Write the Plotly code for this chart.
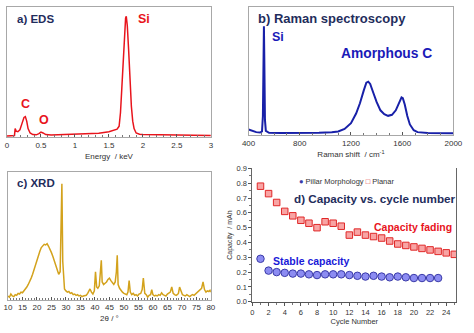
import plotly.graph_objects as go

# ---------------- data ----------------
eds_energy = [0.00, 0.08, 0.11, 0.12, 0.135, 0.16, 0.19, 0.22, 0.25, 0.27, 0.29, 0.31, 0.34, 0.38, 0.43,
              0.47, 0.50, 0.53, 0.57, 0.65, 0.80, 1.00, 1.20, 1.35, 1.50, 1.58, 1.62, 1.65, 1.67, 1.69,
              1.71, 1.73, 1.745, 1.755, 1.77, 1.79, 1.81, 1.83, 1.85, 1.87, 1.90, 1.95, 2.00, 2.20,
              2.50, 2.80, 3.00]
eds_counts = [0.010, 0.012, 0.015, 0.070, 0.050, 0.045, 0.060, 0.110, 0.160, 0.167, 0.130, 0.070, 0.035,
              0.022, 0.020, 0.030, 0.042, 0.035, 0.022, 0.018, 0.020, 0.022, 0.025, 0.032, 0.045, 0.055,
              0.065, 0.090, 0.200, 0.400, 0.650, 0.870, 0.960, 0.975, 0.900, 0.700, 0.450, 0.250, 0.130,
              0.070, 0.035, 0.025, 0.022, 0.020, 0.018, 0.016, 0.015]

raman_shift = [400, 430, 460, 490, 505, 512, 517, 520, 523, 528, 535, 560, 650, 800, 950, 1050, 1100,
               1150, 1200, 1240, 1270, 1300, 1320, 1335, 1350, 1375, 1400, 1430, 1460, 1490, 1520,
               1550, 1575, 1595, 1605, 1620, 1640, 1660, 1690, 1720, 1800, 1900, 2000]
raman_int = [0.045, 0.035, 0.025, 0.022, 0.030, 0.150, 0.600, 0.850, 0.600, 0.120, 0.035, 0.020, 0.018,
             0.017, 0.020, 0.025, 0.030, 0.050, 0.095, 0.170, 0.250, 0.350, 0.410, 0.418, 0.400, 0.330,
             0.260, 0.195, 0.165, 0.152, 0.160, 0.195, 0.250, 0.295, 0.290, 0.240, 0.150, 0.085, 0.040,
             0.025, 0.018, 0.017, 0.016]

xrd_2theta = [10, 10.5, 11, 11.5, 12, 12.5, 13, 13.5, 14, 14.5, 15, 15.5, 16, 16.5, 17, 17.5, 18, 18.5,
              19, 19.5, 20, 20.5, 21, 21.5, 22, 22.5, 23, 23.5, 24, 24.5, 25, 25.5, 26, 26.5, 27, 27.5,
              28, 28.3, 28.6, 28.9, 29.2, 29.5, 30, 30.5, 31, 31.5, 32, 32.5, 33, 33.5, 34, 34.5, 35,
              35.5, 36, 36.5, 37, 37.5, 38.3, 38.8, 39.3, 39.8, 40.2, 40.6, 41.0, 41.5, 41.9, 42.2,
              42.5, 43.0, 43.5, 44.0, 44.5, 45.0, 45.5, 46.0, 46.5, 47.0, 47.4, 47.7, 48.0, 48.5, 49,
              49.5, 50, 50.5, 51.0, 51.4, 51.8, 52.2, 52.7, 53.2, 53.7, 54.2, 54.7, 55.2, 55.8, 56.3,
              56.7, 57.2, 57.7, 58.2, 58.7, 59.2, 59.6, 60.0, 60.5, 61, 61.5, 62, 62.5, 63, 63.5, 64,
              64.5, 65.0, 65.5, 66.0, 66.5, 67, 67.5, 68.0, 68.4, 68.8, 69.2, 69.7, 70.2, 70.7, 71.2,
              71.7, 72.2, 72.7, 73.2, 73.7, 74.2, 74.7, 75.2, 75.7, 76.2, 76.8, 77.3, 77.8, 78.3, 78.8,
              79.3, 79.7, 80]
xrd_int = [0.030, 0.020, 0.045, 0.030, 0.025, 0.040, 0.035, 0.050, 0.045, 0.060, 0.055, 0.070, 0.080,
           0.100, 0.120, 0.140, 0.170, 0.200, 0.240, 0.280, 0.310, 0.350, 0.380, 0.410, 0.420, 0.435,
           0.430, 0.440, 0.420, 0.400, 0.370, 0.340, 0.300, 0.260, 0.220, 0.200, 0.220, 0.500, 0.910,
           0.300, 0.120, 0.085, 0.070, 0.060, 0.065, 0.050, 0.055, 0.040, 0.045, 0.035, 0.040, 0.030,
           0.035, 0.025, 0.030, 0.030, 0.035, 0.050, 0.085, 0.060, 0.045, 0.070, 0.220, 0.100, 0.090,
           0.110, 0.200, 0.310, 0.140, 0.120, 0.130, 0.140, 0.160, 0.170, 0.150, 0.130, 0.120, 0.140,
           0.220, 0.350, 0.120, 0.090, 0.070, 0.060, 0.050, 0.045, 0.040, 0.060, 0.150, 0.060, 0.040,
           0.050, 0.035, 0.040, 0.030, 0.045, 0.050, 0.080, 0.170, 0.050, 0.040, 0.020, 0.035, 0.040,
           0.080, 0.040, 0.030, 0.035, 0.030, 0.040, 0.035, 0.055, 0.040, 0.035, 0.030, 0.045, 0.050,
           0.060, 0.100, 0.050, 0.040, 0.035, 0.040, 0.050, 0.100, 0.060, 0.040, 0.035, 0.030, 0.040,
           0.030, 0.025, 0.035, 0.040, 0.035, 0.045, 0.060, 0.070, 0.080, 0.090, 0.140, 0.080, 0.060,
           0.070, 0.065, 0.075, 0.060, 0.065]

cycle_pillar = list(range(1, 24))
cap_pillar = [0.29, 0.21, 0.20, 0.195, 0.19, 0.19, 0.185, 0.18, 0.185, 0.185, 0.185, 0.18, 0.175,
              0.17, 0.175, 0.17, 0.165, 0.17, 0.165, 0.16, 0.16, 0.16, 0.16]
cycle_planar = list(range(1, 26))
cap_planar = [0.78, 0.73, 0.67, 0.61, 0.58, 0.55, 0.53, 0.50, 0.54, 0.53, 0.51, 0.45, 0.47, 0.45,
              0.44, 0.43, 0.41, 0.39, 0.38, 0.37, 0.36, 0.35, 0.34, 0.33, 0.32]

# ---------------- styling ----------------
W, H = 474, 333
FONT = "Arial, Liberation Sans, sans-serif"
NAVY = "#1f2d5c"
RED = "#e8141c"
BLUE = "#1a1ab8"
GOLD = "#d3a21c"
PILLAR_FILL, PILLAR_LINE = "#8c8cf2", "#3a3aa8"
PLANAR_FILL, PLANAR_LINE = "#f8a4a4", "#e02828"


def px(x):
    return x / W


def py(y):
    return 1 - y / H


fig = go.Figure()
fig.add_trace(go.Scatter(x=eds_energy, y=eds_counts, mode="lines", line=dict(color=RED, width=1.5),
                         xaxis="x", yaxis="y", showlegend=False))
fig.add_trace(go.Scatter(x=raman_shift, y=raman_int, mode="lines", line=dict(color="#1820a8", width=2),
                         xaxis="x2", yaxis="y2", showlegend=False))
fig.add_trace(go.Scatter(x=xrd_2theta, y=xrd_int, mode="lines", line=dict(color=GOLD, width=1.5),
                         xaxis="x3", yaxis="y3", showlegend=False))
fig.add_trace(go.Scatter(x=cycle_pillar, y=cap_pillar, mode="markers", name="Pillar Morphology",
                         marker=dict(symbol="circle", size=7.5, color=PILLAR_FILL,
                                     line=dict(color=PILLAR_LINE, width=1)),
                         xaxis="x4", yaxis="y4", showlegend=False))
fig.add_trace(go.Scatter(x=cycle_planar, y=cap_planar, mode="markers", name="Planar",
                         marker=dict(symbol="square", size=6.5, color=PLANAR_FILL,
                                     line=dict(color=PLANAR_LINE, width=1)),
                         xaxis="x4", yaxis="y4", showlegend=False))

frame = dict(showline=True, linecolor="#a8a8a8", linewidth=1, mirror=True, showgrid=False,
             zeroline=False)
tickfont = dict(family=FONT, size=8, color="#333333")
titlefont = dict(family=FONT, size=8, color="#333333")

fig.update_layout(
    width=W, height=H, margin=dict(l=0, r=0, t=0, b=0),
    paper_bgcolor="white", plot_bgcolor="white",
    font=dict(family=FONT),
    showlegend=False,
    xaxis=dict(domain=[px(0), px(211)], range=[0, 3], anchor="y", tickvals=[0, 0.5, 1, 1.5, 2, 2.5, 3],
               ticktext=["0", "0.5", "1", "1.5", "2", "2.5", "3"], ticks="inside", ticklen=3,
               tickcolor="#555", minor=dict(dtick=0.1, ticks="inside", ticklen=2, tickcolor="#777"),
               tickfont=tickfont, title=dict(text="Energy  / keV", font=titlefont, standoff=4), **frame),
    yaxis=dict(domain=[py(137), py(3)], range=[0, 1.05], anchor="x", showticklabels=False, ticks="",
               **frame),
    xaxis2=dict(domain=[px(250), px(462)], range=[400, 2000], anchor="y2", tickvals=[400, 800, 1200, 1600, 2000],
                ticks="inside", ticklen=3, tickcolor="#555",
                minor=dict(dtick=100, ticks="inside", ticklen=2, tickcolor="#777"),
                tickfont=tickfont, title=dict(text="Raman shift  / cm<sup>-1</sup>", font=titlefont, standoff=4),
                **frame),
    yaxis2=dict(domain=[py(135), py(3)], range=[0, 1.0], anchor="x2", showticklabels=False, ticks="",
                **frame),
    xaxis3=dict(domain=[px(1), px(211)], range=[10, 80], anchor="y3", dtick=5, ticks="inside", ticklen=3,
                tickcolor="#555", minor=dict(dtick=1, ticks="inside", ticklen=2, tickcolor="#777"),
                tickfont=tickfont, title=dict(text="2θ / °", font=titlefont, standoff=4), **frame),
    yaxis3=dict(domain=[py(304), py(173)], range=[0, 1.0], anchor="x3", showticklabels=False, ticks="",
                **frame),
    xaxis4=dict(domain=[px(254), px(465)], range=[0, 25.25], anchor="y4", dtick=2, showline=True,
                linecolor="#555", linewidth=1, mirror=False, showgrid=False, zeroline=False,
                ticks="outside", ticklen=3, tickcolor="#555",
                minor=dict(dtick=1, ticks="outside", ticklen=2, tickcolor="#777"),
                tickfont=dict(family=FONT, size=7.5, color="#333"),
                title=dict(text="Cycle Number", font=dict(family=FONT, size=7.5, color="#333"), standoff=2)),
    yaxis4=dict(domain=[py(306), py(169)], range=[0, 0.9], anchor="x4", dtick=0.1, tickformat=".1f",
                showline=True, linecolor="#666", linewidth=1, mirror=True, showgrid=False, zeroline=False,
                ticks="outside", ticklen=3, tickcolor="#555",
                minor=dict(dtick=0.05, ticks="outside", ticklen=2, tickcolor="#777"),
                tickfont=dict(family=FONT, size=7.5, color="#333"),
                title=dict(text="Capacity  / mAh", font=dict(family=FONT, size=7, color="#333"), standoff=3)),
)

ann = [
    ("<b>a) EDS</b>", 8, 15, NAVY, 11.5, "left"),
    ("<b>Si</b>", 133, 15, RED, 12.5, "left"),
    ("<b>C</b>", 19, 103, RED, 12.5, "center"),
    ("<b>O</b>", 38, 119, RED, 12.5, "center"),
    ("<b>b) Raman spectroscopy</b>", 258, 15, NAVY, 13, "left"),
    ("<b>Si</b>", 272, 34, "#1a1ab8", 12.5, "left"),
    ("<b>Amorphous C</b>", 344, 51, "#1a1ab8", 13.8, "left"),
    ("<b>c) XRD</b>", 8, 184, NAVY, 11.5, "left"),
    ("<b>d) Capacity vs. cycle number</b>", 295, 200, NAVY, 11.7, "left"),
    ("<b>Capacity fading</b>", 378, 229, RED, 10.5, "left"),
    ("<b>Stable capacity</b>", 273, 264, "#1a1ad8", 10.5, "left"),
]
for text, x, y, col, size, anchor in ann:
    fig.add_annotation(text=text, x=px(x), y=py(y), xref="paper", yref="paper", xanchor=anchor,
                       yanchor="middle", showarrow=False, font=dict(family=FONT, size=size, color=col))

# compact legend (as in the reference) for the two series
legend_text = (f'<span style="color:{PILLAR_LINE}">●</span> Pillar Morphology '
               f'<span style="color:{PLANAR_LINE}">□</span> Planar')
fig.add_annotation(text=legend_text, x=px(300), y=py(182), xref="paper", yref="paper", xanchor="left",
                   yanchor="middle", showarrow=False, font=dict(family=FONT, size=7.5, color="#333"))

fig.write_html("out.html")
